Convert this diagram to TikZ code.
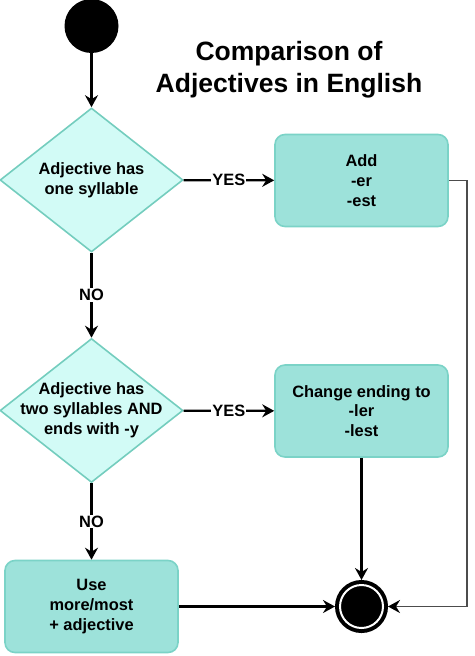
\documentclass[tikz,border=0pt]{standalone}
\usepackage{fontspec}
\setmainfont{Liberation Sans}
\usetikzlibrary{arrows.meta,shapes.geometric}
\usepackage{xcolor}
\definecolor{askfill}{HTML}{D2FBF6}
\definecolor{askline}{HTML}{74CDBE}
\definecolor{stepfill}{HTML}{9DE2DA}
\definecolor{stepline}{HTML}{7BD3C7}

\begin{document}
\begin{tikzpicture}[x=1pt,y=-1pt,
    txt/.style={font=\bfseries\fontsize{16.4}{19.8}\selectfont,align=center},
    question/.style={diamond,draw=askline,fill=askfill,line width=1.6pt,
      minimum width=183pt,minimum height=144pt,inner sep=0pt},
    action/.style={txt,rectangle,rounded corners=10pt,draw=stepline,fill=stepfill,
      line width=1.6pt,minimum width=173pt,minimum height=92pt,inner sep=0pt},
    flow/.style={-{Stealth[length=12pt,width=13pt,inset=4pt]},line width=2.3pt},
    answer/.style={txt,fill=white,inner sep=1pt}]
  \useasboundingbox (0,0) rectangle (474,656);
  % Start
  \node[circle,fill=black,minimum size=54pt,inner sep=0pt] (start) at (91.5,26) {};
  % Title
  \node[font=\bfseries\fontsize{26.5}{32}\selectfont,align=center] (title) at (289,70)
    {Comparison of\\Adjectives in English};
  % Questions
  \node[question,label={[txt]center:Adjective has\\one syllable}] (one) at (91.5,180) {};
  \node[question,label={[txt]center:Adjective has\\two syllables AND\\ends with -y}] (two) at (91.5,410.5) {};
  % Actions
  \node[action] (add) at (361.5,180.5) {Add\\-er\\-est};
  \node[action] (change) at (361.5,411) {Change ending to\\-ler\\-lest};
  \node[action] (more) at (91.5,606.5) {Use\\more/most\\+ adjective};
  % End
  \node[circle,fill=black,draw=black,line width=4pt,double=white,double distance=2pt,
    minimum size=43pt,inner sep=0pt,outer sep=5pt] (stop) at (361.5,606.5) {};
  \coordinate (bend) at (467,180.5);
  % Connectors
  \draw[flow] (start) -- (one);
  \draw[flow] (one) -- node[answer] {YES} (add);
  \draw[flow] (one) -- node[answer] {NO} (two);
  \draw[flow] (two) -- node[answer] {YES} (change);
  \draw[flow] (two) -- node[answer] {NO} (more);
  \draw[flow] (change) -- (stop);
  \draw[flow] (more) -- (stop);
  \draw[-{Stealth[length=12pt,width=13pt,inset=4pt,black]},line width=1.8pt,black!70]
    (add.east) -- (bend) |- (stop.east);
\end{tikzpicture}
\end{document}
